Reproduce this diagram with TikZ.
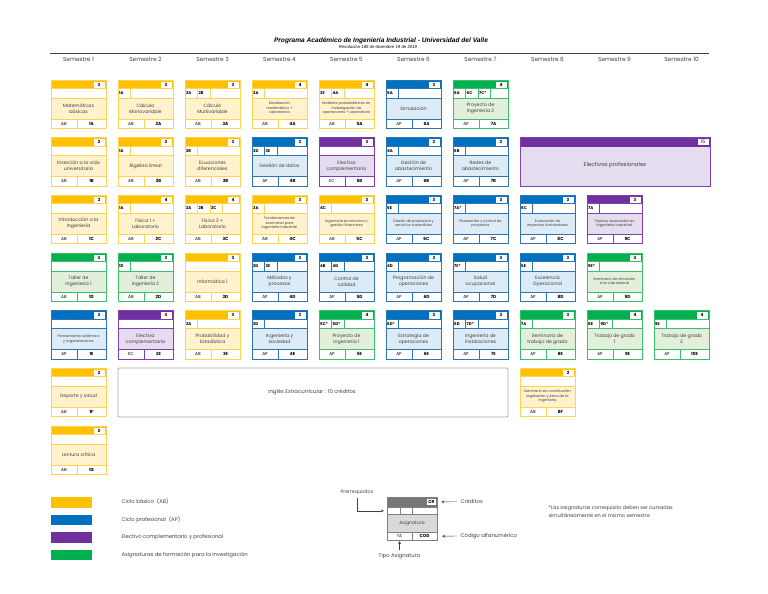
\documentclass[tikz,border=0pt]{standalone}
\usepackage{fontspec}
\setmainfont{Poppins}
\newfontfamily\titlefont{Liberation Sans}
\usetikzlibrary{arrows}

\definecolor{yelbar}{HTML}{FFC000}
\definecolor{yelline}{HTML}{FFD34F}
\definecolor{yelfill}{HTML}{FFF2CC}
\definecolor{blubar}{HTML}{0070C0}
\definecolor{bluline}{HTML}{2E75B6}
\definecolor{blufill}{HTML}{DDEBF7}
\definecolor{purbar}{HTML}{7030A0}
\definecolor{purline}{HTML}{7F3FB0}
\definecolor{purfill}{HTML}{E6DCF0}
\definecolor{grebar}{HTML}{00B050}
\definecolor{greline}{HTML}{3BBF6A}
\definecolor{grefill}{HTML}{E2EFDA}
\definecolor{texto}{HTML}{404040}
\definecolor{grisbar}{HTML}{767676}
\definecolor{grisfill}{HTML}{D9D9D9}

\tikzset{
  crbox/.style={fill=white, minimum width=11pt, minimum height=6.5pt, inner sep=0pt, font=\bfseries\fontsize{4.3}{5}\selectfont},
  prebox/.style={anchor=west, inner sep=1pt, font=\bfseries\fontsize{4}{5}\selectfont},
  nombre/.style={align=center, inner sep=0pt, text=texto, font=\fontsize{4.7}{5.8}\selectfont},
  tipo/.style={inner sep=0pt, font=\fontsize{4.3}{5}\selectfont},
  codigo/.style={inner sep=0pt, font=\bfseries\fontsize{4.3}{5}\selectfont},
  sem/.style={text=texto, font=\fontsize{5.8}{6}\selectfont},
  leyenda/.style={anchor=west, text=texto, font=\fontsize{5.3}{6}\selectfont},
  flecha/.style={->, >=stealth, texto, line width=0.4pt},
}

% nombres largos en letra pequena
\newcommand{\chico}[1]{{\fontsize{3.6}{4.4}\selectfont\begin{tabular}{@{}c@{}}#1\end{tabular}}}

% x, y, color, creditos, prerrequisitos, nombre, tipo, codigo
\newcommand{\curso}[8]{%
  \fill[#3fill] (#1,#2+18) rectangle (#1+55,#2+39);
  \fill[#3bar] (#1,#2) rectangle (#1+55,#2+8.5);
  \draw[#3line] (#1,#2+8.5) -- (#1+55,#2+8.5) (#1,#2+18) -- (#1+55,#2+18)
    (#1,#2+39) -- (#1+55,#2+39) (#1+26,#2+39) -- (#1+26,#2+48.5);
  \draw[#3line, line width=0.9pt] (#1,#2) rectangle (#1+55,#2+48.5);
  \node[crbox] (#8-cr) at (#1+48,#2+4.75) {#4};
  \def\prelist{#5}%
  \ifx\prelist\empty\else
    \foreach \p [count=\k] in {#5} {
      \node[prebox] (#8-p\k) at (#1+\k*12.5-12.5,#2+13.25) {\p};
      \draw[#3line] (#1+\k*12.5,#2+8.5) -- (#1+\k*12.5,#2+18);
    }
  \fi
  \node[nombre] (#8) at (#1+27.5,#2+28.5) {#6};
  \node[tipo] (#8-ta) at (#1+13,#2+43.75) {#7};
  \node[codigo] (#8-cod) at (#1+40.5,#2+43.75) {#8};
}

\begin{document}
\begin{tikzpicture}[x=1pt, y=-1pt]

\useasboundingbox (0,0) rectangle (768,594);

\node[font=\titlefont\bfseries\itshape\fontsize{6.6}{8}\selectfont] (titulo) at (381,40.7) {Programa Académico de Ingeniería Industrial - Universidad del Valle};
\node[font=\titlefont\itshape\fontsize{4.3}{5}\selectfont] (resol) at (378,47.3) {Resolución 185 de diciembre 19 de 2019};
\draw[texto, line width=1pt] (50,53.3) -- (709,53.3);
\foreach \i in {1,...,10}
    \node[sem] (sem\i) at (78.5+\i*67-67,59.5) {Semestre \i};

% Semestre 1
\curso{51}{80}{yel}{3}{}{Matemáticas\\básicas}{AB}{1A}
\curso{51}{137.5}{yel}{2}{}{Inserción a la vida\\universitaria}{AB}{1B}
\curso{51}{195}{yel}{2}{}{Introducción a la\\Ingeniería}{AB}{1C}
\curso{51}{253}{gre}{3}{}{Taller de\\ingeniería 1}{AB}{1D}
\curso{51}{310.5}{blu}{3}{}{\chico{Pensamiento sistémico\\y organizaciones}}{AP}{1E}
\curso{51}{368}{yel}{2}{}{Deporte y salud}{AB}{1F}
\curso{51}{426}{yel}{2}{}{Lectura crítica}{AB}{1G}

% Semestre 2
\curso{118}{80}{yel}{3}{1A}{Cálculo\\Monovariable}{AB}{2A}
\curso{118}{137.5}{yel}{3}{1A}{Álgebra lineal}{AB}{2B}
\curso{118}{195}{yel}{4}{1A}{Física 1 +\\Laboratorio}{AB}{2C}
\curso{118}{253}{gre}{3}{1D}{Taller de\\ingeniería 2}{AB}{2D}
\curso{118}{310.5}{pur}{3}{}{Electiva\\complementaria}{EC}{2E}

% Semestre 3
\curso{185}{80}{yel}{3}{2A,2B}{Cálculo\\Multivariable}{AB}{3A}
\curso{185}{137.5}{yel}{3}{2B}{Ecuaciones\\diferenciales}{AB}{3B}
\curso{185}{195}{yel}{4}{2A,2B,2C}{Física 2 +\\Laboratorio}{AB}{3C}
\curso{185}{253}{yel}{3}{}{Informática 1}{AB}{3D}
\curso{185}{310.5}{yel}{3}{2A}{Probabilidad y\\Estadística}{AB}{3E}

% Semestre 4
\curso{252}{80}{yel}{4}{3A}{\chico{Modelación\\matemática +\\Laboratorio}}{AB}{4A}
\curso{252}{137.5}{blu}{3}{3D,3E}{Gestión de datos}{AP}{4B}
\curso{252}{195}{yel}{3}{3A}{\chico{Fundamentos de\\economía para\\ingeniería industrial}}{AB}{4C}
\curso{252}{253}{blu}{3}{2D,3E}{Métodos y\\procesos}{AP}{4D}
\curso{252}{310.5}{blu}{3}{2D}{Ingeniería y\\sociedad}{AP}{4E}

% Semestre 5
\curso{319}{80}{yel}{4}{3E,4A}{\chico{Modelos probabilísticos en\\investigación de\\operaciones + Laboratorio}}{AB}{5A}
\curso{319}{137.5}{pur}{3}{}{Electiva\\complementaria}{EC}{5B}
\curso{319}{195}{yel}{3}{4C}{\chico{Ingeniería económica y\\gestión financiera}}{AB}{5C}
\curso{319}{253}{blu}{3}{4B,4D}{Control de\\calidad}{AP}{5D}
\curso{319}{310.5}{gre}{4}{5C*,5D*}{Proyecto de\\ingeniería 1}{AP}{5E}

% Semestre 6
\curso{386}{80}{blu}{3}{5A}{Simulación}{AP}{6A}
\curso{386}{137.5}{blu}{3}{4A}{Gestión de\\abastecimiento}{AP}{6B}
\curso{386}{195}{blu}{3}{5E}{\chico{Diseño de productos y\\servicios sostenibles}}{AP}{6C}
\curso{386}{253}{blu}{3}{4D}{Programación de\\operaciones}{AP}{6D}
\curso{386}{310.5}{blu}{3}{6D*}{Estrategia de\\operaciones}{AP}{6E}

% Semestre 7
\curso{453}{80}{gre}{4}{6A,6C,7C*}{Proyecto de\\ingeniería 2}{AP}{7A}
\curso{453}{137.5}{blu}{3}{6B}{Redes de\\abastecimiento}{AP}{7B}
\curso{453}{195}{blu}{3}{7A*}{\chico{Planeación y control de\\proyectos}}{AP}{7C}
\curso{453}{253}{blu}{3}{7E*}{Salud\\ocupacional}{AP}{7D}
\curso{453}{310.5}{blu}{3}{6D,7D*}{Ingeniería de\\instalaciones}{AP}{7E}

% Semestre 8
\curso{520}{195}{blu}{3}{6C}{\chico{Evaluación de\\Impactos Ambientales}}{AP}{8C}
\curso{520}{253}{blu}{3}{6E}{Excelencia\\Operacional}{AP}{8D}
\curso{520}{310.5}{gre}{3}{7A}{Seminario de\\trabajo de grado}{AP}{8E}
\curso{520}{368}{yel}{2}{}{\chico{Seminario en constitución,\\legislación y ética de la\\ingeniería}}{AB}{8F}

% Semestre 9
\curso{587}{195}{pur}{3}{7A}{\chico{Tópicos avanzados en\\Ingeniería Industrial}}{AP}{9C}
\curso{587}{253}{gre}{3}{9E*}{\chico{Seminario de iniciación\\a la vida laboral}}{AP}{9D}
\curso{587}{310.5}{gre}{4}{8E,9D*}{Trabajo de grado\\1}{AP}{9E}

% Semestre 10
\curso{654}{310.5}{gre}{4}{9E}{Trabajo de grado\\2}{AP}{10E}

% Electivas profesionales
\fill[purfill] (520,146.5) rectangle (710,186.5);
\fill[purbar] (520,137.5) rectangle (710,146.5);
\draw[purline, line width=0.9pt] (520,137.5) rectangle (710,186.5);
\node[crbox, font=\fontsize{4.6}{5}\selectfont] (ep-cr) at (703,142) {15};
\node[nombre, font=\fontsize{5.5}{6}\selectfont] (ep) at (615,165) {Electivas profesionales};

% Ingles
\draw[gray!70, line width=0.8pt, rounded corners=1pt] (118,368) rectangle (508,417);
\node[leyenda, anchor=center] (ingles) at (312,392) {Inglés Extracurricular : 10 créditos};

% Convenciones
\fill[yelbar] (51,497) rectangle (92,507.5);
\fill[blubar] (51,514.5) rectangle (92,525);
\fill[purbar] (51,532) rectangle (92,542.5);
\fill[grebar] (51,549.5) rectangle (92,560);
\node[leyenda] (ley-ab) at (118,502) {Ciclo básico \ (AB)};
\node[leyenda] (ley-ap) at (118,519.5) {Ciclo profesional \ (AP)};
\node[leyenda] (ley-ec) at (118,537) {Electivo complementario y profesional};
\node[leyenda] (ley-inv) at (118,555) {Asignaturas de formación para la investigación};

% Tarjeta de ejemplo
\fill[grisfill] (387,514.5) rectangle (437,532.5);
\fill[grisbar] (387,497) rectangle (437,507);
\draw[gray] (387,507) -- (437,507) (387,514.5) -- (437,514.5) (387,532.5) -- (437,532.5)
    (400,507) -- (400,514.5) (412.5,507) -- (412.5,514.5) (412,532.5) -- (412,540);
\draw[gray, line width=0.8pt] (387,497) rectangle (437,540);
\node[crbox, minimum width=9pt] (ley-cr) at (431.5,502) {CR};
\node[nombre, font=\fontsize{4.6}{5}\selectfont] (ley-asig) at (412,523.5) {Asignatura};
\node[tipo] (ley-ta) at (399.5,536.25) {TA};
\node[codigo] (ley-cod) at (424.5,536.25) {COD};
\coordinate (ley-pre) at (387,510.75);
\coordinate (ley-der) at (437,536.25);
\coordinate (ley-sur) at (399.5,540);

\node[leyenda, anchor=center, font=\fontsize{4.8}{5}\selectfont] (prer) at (357,492.5) {Prerrequisitos};
\node[leyenda] (cred) at (457,501.7) {Créditos};
\node[leyenda] (cod) at (457,536) {Código alfanumérico};
\node[leyenda, anchor=center] (tipo-asig) at (399.5,556) {Tipo Asignatura};
\draw[flecha, shorten >=3pt] (prer.south) |- (ley-pre);
\draw[flecha, shorten >=5pt] (cred.west) -- (ley-cr.east);
\draw[flecha, shorten >=5pt] (cod.west) -- (ley-der);
\draw[flecha, shorten >=1pt] (tipo-asig.north) -- (ley-sur);

\node[leyenda, align=left, anchor=north west, font=\fontsize{5}{8.6}\selectfont] (nota) at (545,502) {*Las asignaturas correquisito deben ser cursadas\\simultáneamente en el mismo semestre};

\end{tikzpicture}
\end{document}
